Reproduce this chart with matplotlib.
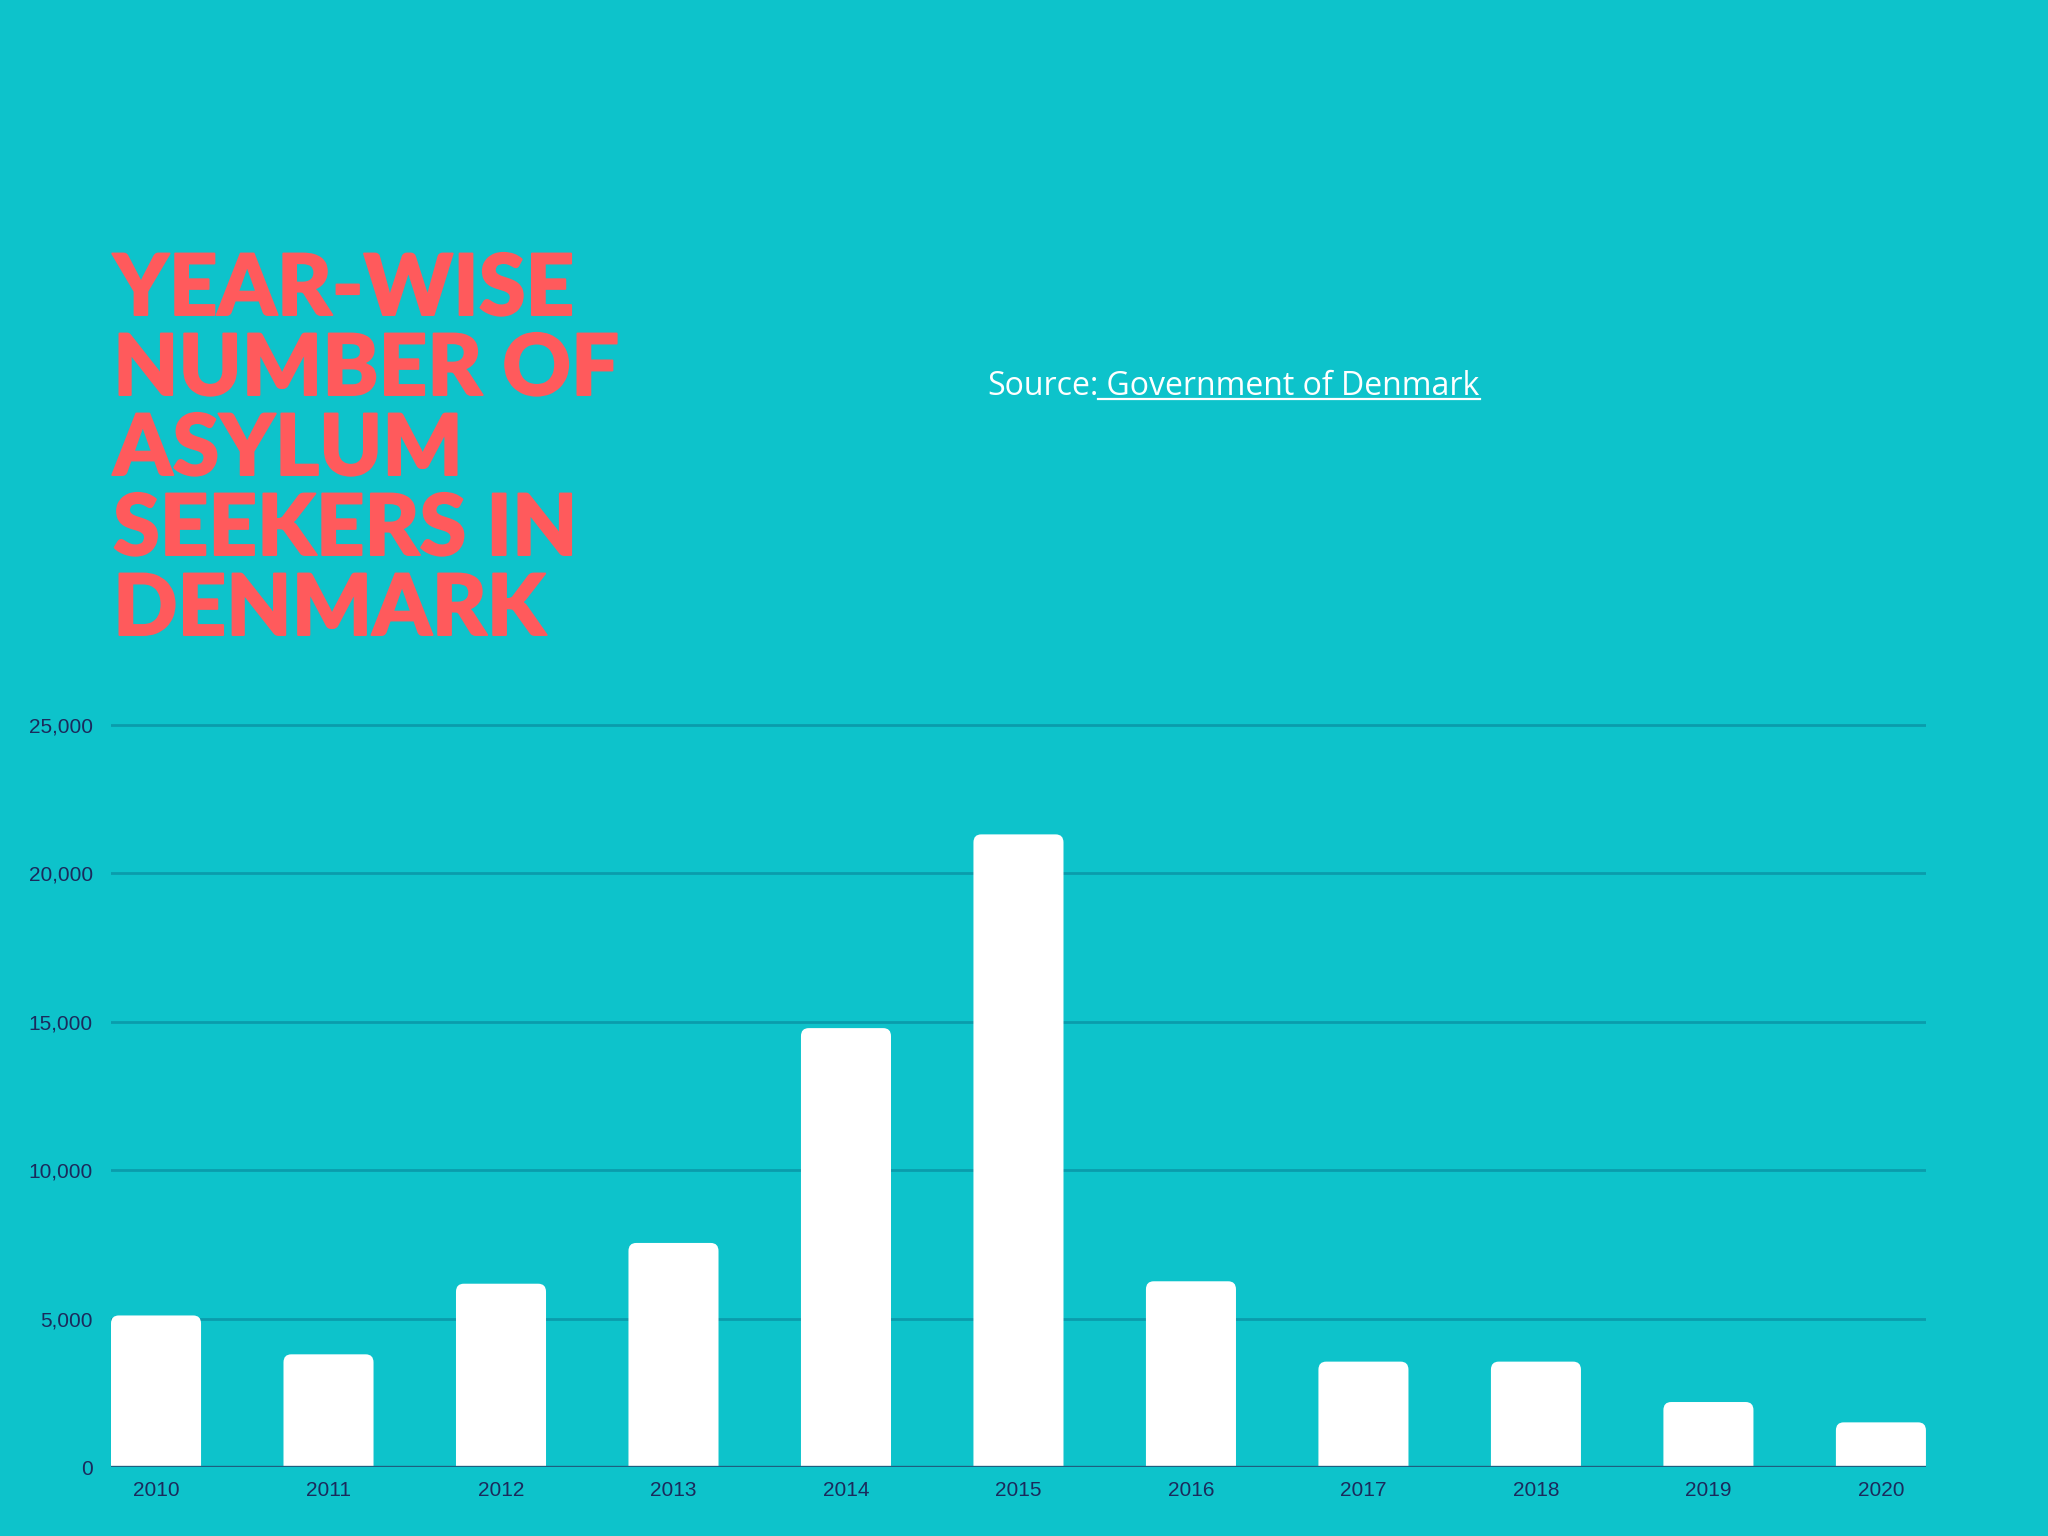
import matplotlib.pyplot as plt
import matplotlib.patheffects as pe
from matplotlib.patches import FancyBboxPatch
from matplotlib.ticker import FuncFormatter

years = ["2010", "2011", "2012", "2013", "2014", "2015",
         "2016", "2017", "2018", "2019", "2020"]
seekers = [5115, 3806, 6184, 7557, 14792, 21316, 6266, 3560, 3560, 2200, 1515]
y_ticks = [0, 5000, 10000, 15000, 20000, 25000]

bg = "#0dc3cb"
title_col = "#ff5a5c"
label_col = "#1b2a5c"
grid_col = "#0a9cac"

fig = plt.figure(figsize=(10.24, 7.68), dpi=200, facecolor=bg)
ax = fig.add_axes([0.0542, 0.0447, 0.8862, 0.4891])
ax.set_facecolor(bg)

# bars with rounded tops (bottoms hidden below zero)
width = 0.522
r_x = 0.045
r_y = 270
for i, v in enumerate(seekers):
    p = FancyBboxPatch((i - width / 2, -r_y * 2), width, v + r_y * 2,
                       boxstyle=f"round,pad=0,rounding_size={r_x}",
                       mutation_aspect=r_y / r_x,
                       facecolor="white", edgecolor="none", zorder=3)
    ax.add_patch(p)

ax.set_xlim(-0.261, len(years) - 1 + 0.261)
ax.set_ylim(0, 25300)
ax.set_xticks(range(len(years)))
ax.set_xticklabels(years)
ax.set_yticks(y_ticks)
ax.yaxis.set_major_formatter(FuncFormatter(lambda v, p: f"{int(v):,}"))

for y in y_ticks[1:]:
    ax.axhline(y, color=grid_col, lw=1.0, zorder=1)
ax.axhline(0, color="#1d5f80", lw=1.2, zorder=4)

for s in ax.spines.values():
    s.set_visible(False)
ax.tick_params(length=0, labelsize=7.5, labelcolor=label_col)
ax.tick_params(axis="y", pad=6.5)
ax.tick_params(axis="x", pad=5)
for t in ax.get_xticklabels() + ax.get_yticklabels():
    t.set_family(["Liberation Sans", "DejaVu Sans"])

# title
title_lines = ["YEAR-WISE", "NUMBER OF", "ASYLUM", "SEEKERS IN", "DENMARK"]
for k, line in enumerate(title_lines):
    fig.text(0.0552, 1 - (315 + 80 * k) / 1536, line, color=title_col,
             fontsize=30.5, fontweight="black", family=["Lato", "DejaVu Sans"],
             ha="left", va="baseline",
             path_effects=[pe.withStroke(linewidth=0.7, foreground=title_col)])

# source with underlined link
src_y = 1 - 395 / 1536
t1 = fig.text(987 / 2048, src_y, "Source:", color="white", fontsize=11.5,
              family=["Open Sans", "DejaVu Sans"], ha="left", va="baseline")
fig.canvas.draw()
rend = fig.canvas.get_renderer()
bb = t1.get_window_extent(rend)
x2 = bb.x1 / fig.bbox.width
t2 = fig.text(x2, src_y, " Government of Denmark", color="white", fontsize=11.5,
              family=["Open Sans", "DejaVu Sans"], ha="left", va="baseline")
bb2 = t2.get_window_extent(rend)
uy = 1 - 399 / 1536
fig.add_artist(plt.Line2D([x2, bb2.x1 / fig.bbox.width], [uy, uy],
                          color="white", lw=0.8, transform=fig.transFigure))

fig.savefig("out.png", dpi=200, facecolor=bg)
